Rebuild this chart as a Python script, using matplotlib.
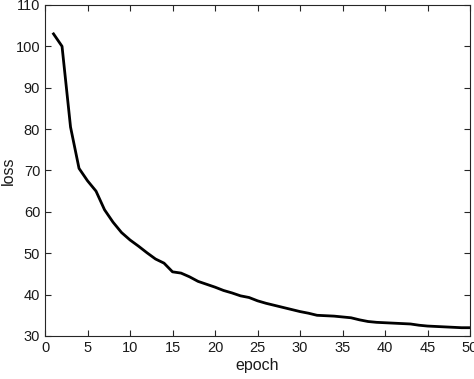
import matplotlib
matplotlib.use('Agg')
import matplotlib.pyplot as plt

# loss per epoch
epochs = list(range(1, 51))
loss = [103.0, 100.0, 80.5, 70.5, 67.5, 65.0, 60.5, 57.5, 55.0, 53.2,
        51.7, 50.1, 48.6, 47.6, 45.5, 45.2, 44.3, 43.2, 42.5, 41.8,
        41.0, 40.4, 39.7, 39.3, 38.5, 37.9, 37.4, 36.9, 36.4, 35.9,
        35.5, 35.0, 34.9, 34.8, 34.6, 34.4, 33.9, 33.5, 33.3, 33.2,
        33.1, 33.0, 32.9, 32.6, 32.4, 32.3, 32.2, 32.1, 32.0, 32.0]

xticks = list(range(0, 51, 5))
yticks = list(range(30, 111, 10))

plt.rcParams['font.family'] = ['Liberation Sans', 'DejaVu Sans']

fig = plt.figure(figsize=(4.74, 3.79), dpi=100)
ax = fig.add_axes([0.095, 0.1135, 0.8966, 0.8735])

ax.plot(epochs, loss, color='black', linewidth=2)

ax.set_xlim(0, 50)
ax.set_ylim(30, 110)
ax.set_xticks(xticks)
ax.set_yticks(yticks)

axis_col = '#262626'
for s in ax.spines.values():
    s.set_color(axis_col)
    s.set_linewidth(0.8)
ax.tick_params(direction='in', top=True, right=True, length=4, width=0.8,
               color=axis_col, labelsize=10.5, labelcolor='#1a1a1a')

ax.set_xlabel('epoch', fontsize=11.5, color='#1a1a1a', labelpad=2)
ax.set_ylabel('loss', fontsize=11.5, color='#1a1a1a', labelpad=0)

plt.savefig('out.png', dpi=100)
